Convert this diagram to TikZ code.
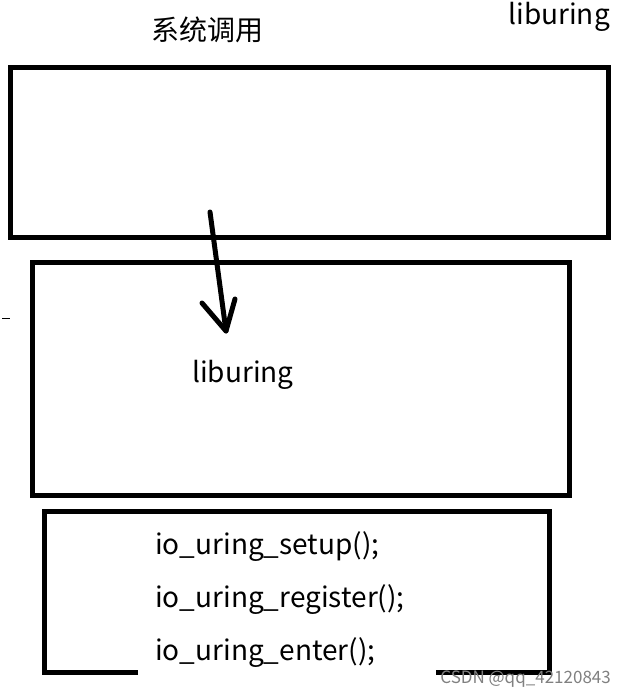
\documentclass[tikz,border=0pt]{standalone}
\usepackage{fontspec}
\setmainfont{Noto Sans CJK SC}
\begin{document}
\begin{tikzpicture}[x=1pt,y=-1pt,
  frame/.style={draw=black,line width=5pt},
  lbl/.style={inner sep=0pt,font=\fontsize{28}{30}\selectfont},
  pen/.style={line width=5pt,line cap=round,line join=round}]
\useasboundingbox (0,0) rectangle (626,696);
\draw[frame] (10,67) rectangle (608,237);
\draw[frame] (32,262) rectangle (569,495);
\coordinate (bl) at (44,672);
\coordinate (bl2) at (138,672);
\coordinate (br) at (549,672);
\coordinate (br2) at (436,672);
\draw[frame] (bl2) -- (bl) -- (44,511) -- (549,511) -- (br) -- (br2);
\node[lbl] (t1) at (207,30) {系统调用};
\node[lbl,anchor=east] (t2) at (610,17) {liburing};
\node[lbl] (t3) at (243,375) {liburing};
\node[lbl,anchor=west] (f1) at (155,547) {io\_uring\_setup();};
\node[lbl,anchor=west] (f2) at (155,600) {io\_uring\_register();};
\node[lbl,anchor=west] (f3) at (155,653) {io\_uring\_enter();};
\coordinate (a0) at (210,212);
\coordinate (a1) at (226,331);
\draw[pen] (a0) -- (a1);
\draw[pen] (202,303) -- (a1) -- (235,299);
\draw[line width=0.6pt] (2,318) -- (10,318);
\node[inner sep=0pt,anchor=east,text=gray,font=\fontsize{17}{19}\selectfont] (wm) at (611,679) {CSDN @qq\_42120843};
\end{tikzpicture}
\end{document}
